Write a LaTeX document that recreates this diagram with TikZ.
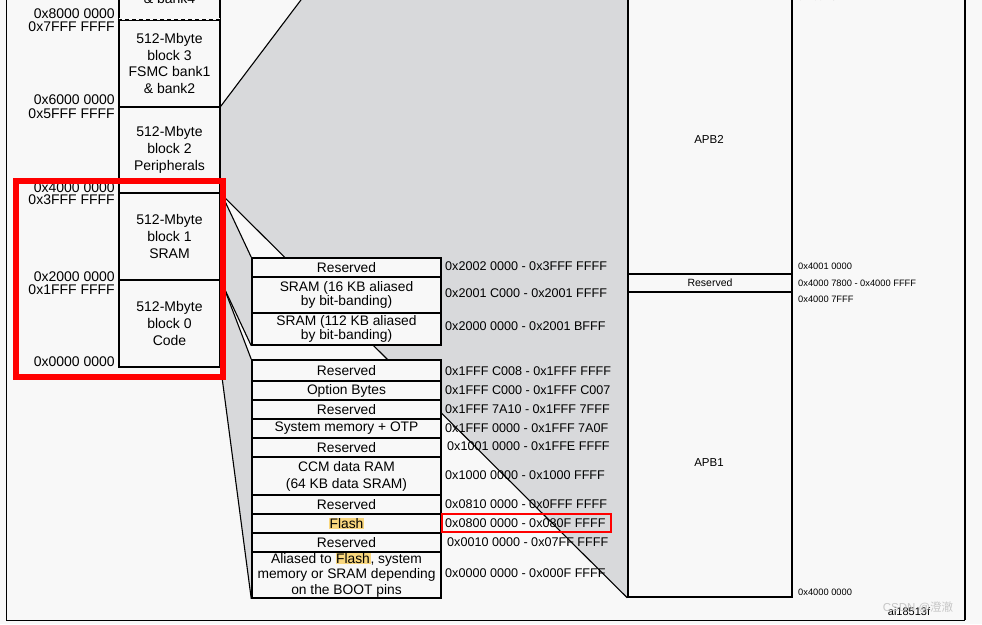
\documentclass[tikz,border=0pt]{standalone}
\usepackage{fontspec}
\setmainfont{Liberation Sans}
\newfontfamily\cjkfont{Noto Sans CJK SC}
\usetikzlibrary{backgrounds}
\definecolor{bgc}{HTML}{F8F8F8}
\definecolor{zgray}{HTML}{D8D9DB}
\definecolor{flashyel}{HTML}{F9D77E}
\newcommand{\flashhl}[1]{{\setlength{\fboxsep}{0.6pt}\colorbox{flashyel}{#1}}}

\begin{document}
\begin{tikzpicture}[x=1pt,y=-1pt,
    blk/.style={draw,line width=1.5pt,fill=bgc,minimum width=101pt,minimum height=87pt,
      inner sep=0pt,align=center,font=\fontsize{14}{16.7}\selectfont},
    memrow/.style={draw,line width=1.5pt,fill=bgc,minimum width=189pt,inner sep=0pt,
      align=center,font=\fontsize{13.8}{15.5}\selectfont},
    adr/.style={anchor=west,inner sep=0pt,font=\fontsize{12.6}{14}\selectfont},
    ladr/.style={anchor=east,inner sep=0pt,font=\fontsize{14}{16}\selectfont},
    radr/.style={anchor=west,inner sep=0pt,font=\fontsize{9.3}{11}\selectfont},
    zline/.style={line width=1.1pt}]
    \useasboundingbox (0,0) rectangle (982,624);

    % memory blocks
    \node[blk,minimum height=93pt] (blk4) at (169.5,-26.5) {512-Mbyte\\block 4\\FSMC bank3\\\& bank4};
    \node[blk] (blk3) at (169.5,63.5) {512-Mbyte\\block 3\\FSMC bank1\\\& bank2};
    \node[blk,minimum height=86pt] (blk2) at (169.5,150) {512-Mbyte\\block 2\\Peripherals};
    \node[blk] (blk1) at (169.5,236.5) {512-Mbyte\\block 1\\SRAM};
    \node[blk] (blk0) at (169.5,323.5) {512-Mbyte\\block 0\\Code};
    \draw[bgc,line width=2pt,shorten <=1pt,shorten >=1pt] (blk3.north west) -- (blk3.north east);
    \draw[line width=1.5pt,dash pattern=on 4pt off 3pt] (blk3.north west) -- (blk3.north east);

    % block addresses
    \foreach \y/\t [count=\i] in {14/{0x8000 0000},27/{0x7FFF FFFF},100/{0x6000 0000},
        114/{0x5FFF FFFF},188/{0x4000 0000},200/{0x3FFF FFFF},277/{0x2000 0000},
        290/{0x1FFF FFFF},362/{0x0000 0000}}
      \node[ladr] (ladr\i) at (115,\y) {\t};

    % SRAM
    \node[memrow,minimum height=19pt] (sres) at (346.5,267.5) {Reserved};
    \node[memrow,minimum height=36pt,font=\fontsize{13.8}{14}\selectfont] (s16) at (346.5,295) {SRAM (16 KB aliased\\by bit-banding)};
    \node[memrow,minimum height=32pt,font=\fontsize{13.8}{14}\selectfont] (s112) at (346.5,329) {SRAM (112 KB aliased\\by bit-banding)};

    % code
    \node[memrow,minimum height=21pt] (c1) at (346.5,370.5) {Reserved};
    \node[memrow,minimum height=19pt] (c2) at (346.5,390.5) {Option Bytes};
    \node[memrow,minimum height=19pt] (c3) at (346.5,409.5) {Reserved};
    \node[memrow,minimum height=19pt] (c4) at (346.5,428.5) {System memory + OTP};
    \node[memrow,minimum height=19pt] (c5) at (346.5,447.5) {Reserved};
    \node[memrow,minimum height=38pt,font=\fontsize{13.8}{17}\selectfont] (c6) at (346.5,476) {CCM data RAM\\(64 KB data SRAM)};
    \node[memrow,minimum height=19pt] (c7) at (346.5,504.5) {Reserved};
    \node[memrow,minimum height=19pt] (c8) at (346.5,523.5) {\flashhl{Flash}};
    \node[memrow,minimum height=19pt] (c9) at (346.5,542.5) {Reserved};
    \node[memrow,minimum height=46pt] (c10) at (346.5,575) {Aliased to \flashhl{Flash}, system\\memory or SRAM depending\\on the BOOT pins};

    % address ranges
    \foreach \x/\y/\t [count=\i] in {445/266/{0x2002 0000 - 0x3FFF FFFF},445/293/{0x2001 C000 - 0x2001 FFFF},
        445/326/{0x2000 0000 - 0x2001 BFFF},445/371/{0x1FFF C008 - 0x1FFF FFFF},
        445/390/{0x1FFF C000 - 0x1FFF C007},445/409/{0x1FFF 7A10 - 0x1FFF 7FFF},
        445/428/{0x1FFF 0000 - 0x1FFF 7A0F},447/446/{0x1001 0000 - 0x1FFE FFFF},
        445/475/{0x1000 0000 - 0x1000 FFFF},445/504/{0x0810 0000 - 0x0FFF FFFF},
        445/523/{0x0800 0000 - 0x080F FFFF},447/542/{0x0010 0000 - 0x07FF FFFF},
        445/573/{0x0000 0000 - 0x000F FFFF}}
      \node[adr] (adr\i) at (\x,\y) {\t};

    % APB
    \node[draw,line width=1.5pt,fill=bgc,minimum width=164pt,minimum height=640pt,inner sep=0pt] (apb) at (710,277) {};
    \node[draw,line width=1.5pt,fill=bgc,minimum width=164pt,minimum height=18pt,inner sep=0pt,
      font=\fontsize{10.5}{12}\selectfont] (apbres) at (710,283) {Reserved};
    \node[font=\fontsize{11.5}{13}\selectfont] (apb2) at (709,139) {APB2};
    \node[font=\fontsize{11.5}{13}\selectfont] (apb1) at (709,463) {APB1};
    \node[radr] (r0) at (798,-3) {0x4001 57FF};
    \node[radr] (r1) at (798,266) {0x4001 0000};
    \node[radr] (r2) at (798,283) {0x4000 7800 - 0x4000 FFFF};
    \node[radr] (r3) at (798,299) {0x4000 7FFF};
    \node[radr] (r4) at (798,592) {0x4000 0000};

    \node[font=\fontsize{11}{12}\selectfont] (fig) at (909,612) {ai18513f};
    \node[text=gray!45,font=\fontsize{11.5}{12}\selectfont] (wm) at (918,607) {CSDN @\cjkfont 澄澈};

    % red marks
    \draw[red,line width=6pt] (16,181) rectangle (223,377);
    \draw[red,line width=2.2pt] (442,514) rectangle (611,532);

    \begin{scope}[on background layer]
      \fill[bgc] (0,0) rectangle (982,624);
      \draw[line width=0.9pt] (6.5,-5) -- (6.5,620) -- (964.5,620);
      \draw[line width=2pt] (964.5,-5) -- (964.5,620);
      % zoom of block 2
      \coordinate (ptop) at (316,-20);
      \fill[zgray] (blk2.north east) -- (ptop) -- (apb.north west) -- (apb.south west) -- (blk2.south east) -- cycle;
      \draw[zline] (blk2.north east) -- (ptop);
      \draw[zline] (blk2.south east) -- (apb.south west);
      % zoom of block 1
      \fill[zgray] (blk1.north east) -- (sres.north west) -- (s112.south west) -- (blk1.south east) -- cycle;
      \draw[zline] (blk1.north east) -- (sres.north west);
      \draw[zline] (blk1.south east) -- (s112.south west);
      % zoom of block 0
      \fill[zgray] (blk0.north east) -- (c1.north west) -- (c10.south west) -- (blk0.south east) -- cycle;
      \draw[zline] (blk0.north east) -- (c1.north west);
      \draw[zline] (blk0.south east) -- (c10.south west);
    \end{scope}
\end{tikzpicture}
\end{document}
